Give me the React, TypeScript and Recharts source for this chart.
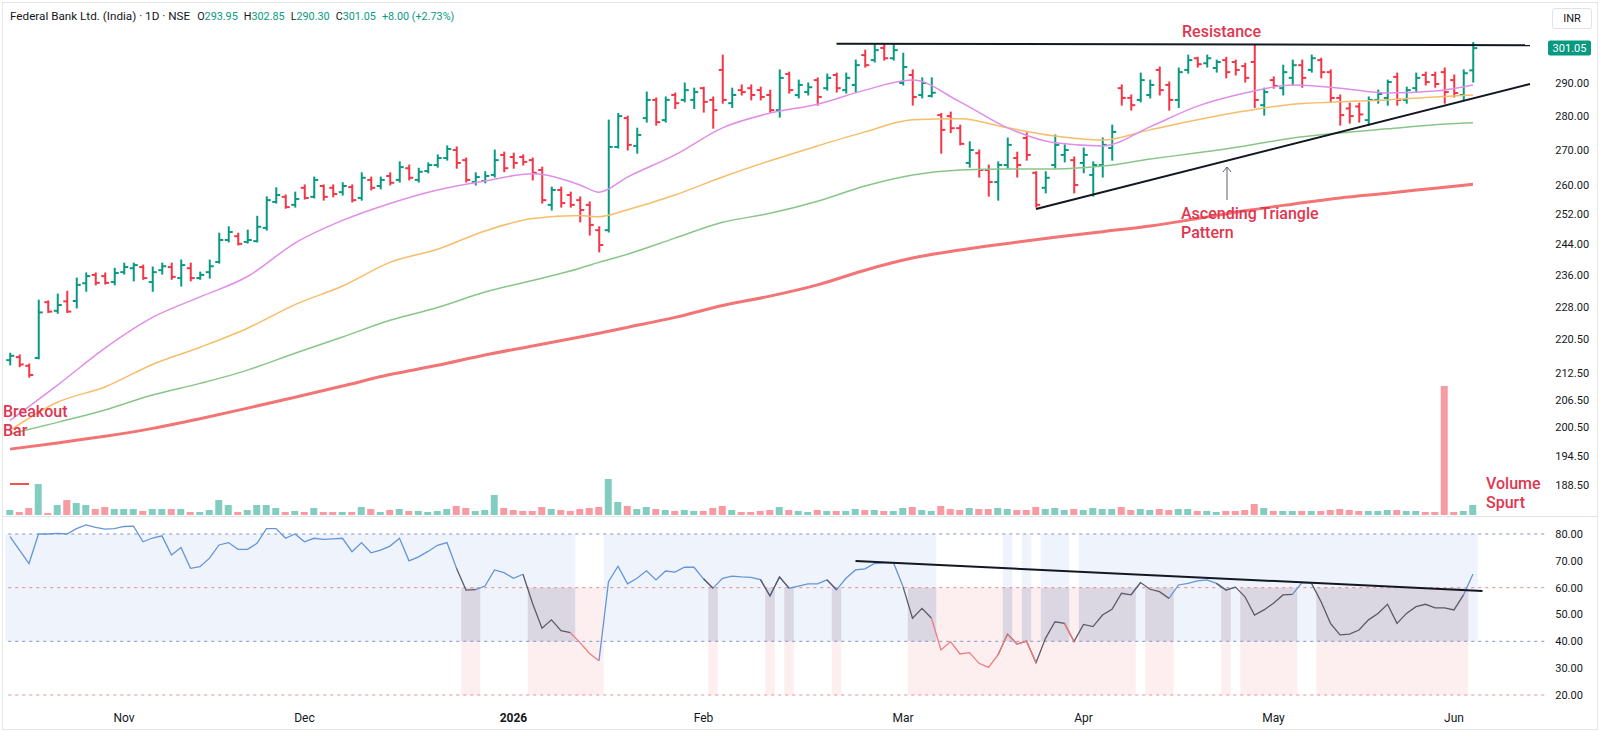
import React from 'react';
import { ComposedChart, Bar, Line, XAxis, YAxis, ReferenceLine, ReferenceArea, Cell } from 'recharts';

const UP = '#089981';
const DOWN = '#f23645';
const NOTE = '#e0364f';
const SLOTS = 162; // trading days plus empty room on the right

// Daily OHLC, Federal Bank (NSE)
const OPEN = [
  215.5, 216.2, 214.2, 216.0, 229.3, 227.2, 229.5, 229.6, 234.0, 236.1,
  235.8, 234.3, 236.8, 237.8, 238.1, 234.3, 237.3, 238.1, 235.3, 237.8,
  235.3, 236.8, 239.4, 245.1, 246.1, 244.6, 244.8, 248.3, 255.3, 256.7,
  254.5, 259.2, 256.7, 259.7, 259.2, 258.0, 259.4, 256.4, 261.4, 259.7,
  262.5, 261.4, 264.7, 261.4, 263.9, 265.6, 267.6, 269.9, 267.0, 260.8,
  261.1, 262.8, 268.5, 267.9, 267.9, 267.0, 264.2, 254.5, 258.6, 257.2,
  255.8, 254.5, 247.7, 247.7, 270.8, 279.3, 271.1, 279.3, 284.8, 278.7,
  286.3, 284.8, 284.8, 288.4, 284.8, 294.1, 283.8, 287.8, 288.4, 287.8,
  286.3, 281.7, 292.8, 286.3, 287.2, 290.9, 288.4, 292.5, 287.8, 289.4,
  298.8, 297.2, 301.1, 297.8, 290.0, 292.5, 286.3, 286.0, 280.2, 279.9,
  276.3, 266.2, 269.0, 264.2, 260.8, 265.6, 267.6, 273.4, 263.4, 259.2,
  265.6, 268.5, 267.0, 266.2, 262.8, 265.6, 270.5, 288.4, 285.4, 284.8,
  286.3, 294.1, 289.4, 284.8, 294.1, 297.8, 296.2, 294.7, 297.2, 296.6,
  295.3, 296.6, 283.2, 290.9, 288.4, 291.6, 295.6, 294.1, 297.2, 293.4,
  285.4, 282.2, 282.8, 278.7, 284.8, 285.4, 291.9, 284.8, 288.4, 292.5,
  292.5, 293.4, 290.9, 286.3, 293.95,
];
const HIGH = [
  217.1, 216.7, 214.6, 229.8, 229.6, 231.3, 232.0, 235.3, 236.6, 236.6,
  236.6, 237.8, 239.1, 239.1, 238.6, 238.1, 239.1, 239.1, 239.9, 239.1,
  236.8, 239.9, 246.9, 248.6, 246.9, 247.7, 251.4, 256.7, 259.2, 257.2,
  258.0, 260.0, 262.2, 260.0, 260.0, 260.6, 260.0, 263.4, 262.2, 262.2,
  263.4, 266.5, 265.6, 264.7, 266.2, 268.5, 271.1, 270.8, 267.6, 263.4,
  263.7, 269.9, 269.3, 269.0, 268.5, 267.6, 265.0, 259.4, 259.4, 258.0,
  256.7, 255.3, 248.6, 278.7, 280.7, 279.9, 276.3, 287.2, 285.4, 285.7,
  286.9, 290.0, 288.4, 288.7, 285.7, 298.8, 288.4, 289.4, 289.4, 288.7,
  287.8, 294.1, 293.4, 290.9, 290.0, 291.6, 292.8, 293.1, 293.1, 297.2,
  300.4, 302.1, 302.1, 302.1, 299.4, 294.1, 291.6, 291.6, 280.7, 281.1,
  277.2, 272.3, 269.9, 265.6, 266.5, 273.4, 269.3, 274.9, 263.7, 263.7,
  274.3, 271.4, 267.9, 270.5, 266.5, 273.4, 277.2, 289.4, 286.3, 293.1,
  290.9, 295.0, 290.3, 294.7, 298.8, 298.1, 298.8, 297.2, 298.1, 297.2,
  296.2, 302.1, 288.4, 291.9, 295.6, 297.2, 297.2, 298.8, 297.8, 294.1,
  286.3, 283.8, 283.8, 285.7, 287.8, 290.9, 293.1, 288.7, 293.1, 293.4,
  293.4, 294.7, 292.5, 294.1, 302.85,
];
const LOW = [
  214.4, 214.0, 211.6, 215.8, 226.8, 226.6, 226.8, 227.9, 232.0, 233.6,
  233.8, 233.6, 236.3, 234.6, 235.0, 232.0, 236.3, 235.0, 233.3, 234.6,
  235.0, 235.3, 239.1, 244.6, 243.8, 244.3, 244.6, 247.7, 255.0, 253.6,
  253.9, 256.1, 256.4, 255.8, 256.7, 257.2, 255.3, 255.8, 258.6, 258.9,
  260.0, 260.8, 261.4, 260.8, 263.4, 265.0, 267.0, 264.7, 260.8, 260.0,
  260.6, 262.2, 263.7, 264.7, 265.6, 261.4, 255.0, 253.1, 253.9, 253.9,
  249.9, 246.4, 242.0, 247.2, 270.5, 269.9, 269.0, 278.1, 277.2, 278.1,
  282.2, 284.2, 282.2, 281.1, 276.3, 283.8, 282.5, 286.3, 284.8, 284.8,
  281.1, 279.6, 286.9, 285.4, 286.3, 283.2, 287.8, 287.2, 286.9, 287.2,
  295.0, 296.6, 297.2, 297.2, 289.4, 283.2, 285.4, 285.7, 269.0, 275.0,
  271.4, 265.0, 262.2, 256.9, 255.8, 264.7, 262.2, 267.0, 253.9, 257.8,
  264.7, 266.5, 257.8, 263.4, 256.9, 262.2, 267.0, 283.2, 281.7, 284.2,
  285.4, 286.3, 281.7, 282.5, 293.1, 295.0, 295.0, 293.4, 291.6, 292.5,
  290.3, 282.5, 280.2, 288.4, 286.3, 289.4, 288.7, 293.4, 291.6, 284.2,
  277.2, 277.8, 278.1, 277.2, 283.8, 283.2, 283.2, 283.8, 287.2, 289.4,
  288.7, 283.8, 285.7, 284.8, 290.3,
];
const CLOSE = [
  216.5, 214.5, 212.1, 226.8, 227.0, 228.6, 227.0, 233.6, 235.8, 234.1,
  234.1, 236.6, 238.1, 238.6, 235.3, 236.8, 238.3, 235.6, 238.6, 235.3,
  236.1, 238.3, 245.1, 247.2, 244.1, 245.1, 248.6, 255.8, 257.2, 253.9,
  256.1, 256.4, 261.4, 256.7, 257.5, 259.7, 255.8, 262.0, 259.2, 261.4,
  260.6, 265.0, 262.0, 263.7, 265.6, 267.6, 270.2, 266.2, 261.4, 262.2,
  262.5, 267.0, 264.7, 266.2, 266.5, 263.4, 255.8, 258.6, 255.0, 254.5,
  253.1, 249.1, 243.8, 270.8, 279.9, 271.4, 274.3, 284.8, 278.1, 284.8,
  283.8, 287.8, 287.2, 284.2, 281.7, 284.8, 286.3, 287.2, 286.3, 285.7,
  281.7, 291.6, 287.8, 289.4, 288.7, 285.7, 291.6, 288.4, 291.6, 295.6,
  295.6, 300.4, 297.8, 300.4, 295.0, 285.7, 290.0, 287.0, 275.8, 276.3,
  271.7, 269.9, 264.2, 260.8, 265.6, 271.4, 265.6, 268.5, 254.5, 262.0,
  271.4, 269.9, 260.0, 268.5, 265.6, 271.4, 275.2, 285.4, 283.2, 290.9,
  289.4, 287.8, 284.8, 293.4, 297.2, 295.9, 297.8, 296.6, 293.4, 294.1,
  291.6, 284.8, 287.2, 289.1, 293.4, 295.6, 291.6, 297.8, 293.4, 285.4,
  280.2, 279.9, 280.4, 284.8, 286.6, 290.3, 284.8, 287.8, 291.6, 290.3,
  289.7, 287.2, 286.9, 293.05, 301.05,
];
// volume, millions of shares
const VOLUME = [
  5, 3, 7, 31, 2, 10, 15, 12, 10, 6,
  8, 6, 6, 6, 4, 6, 6, 6, 6, 3,
  3, 5, 15, 10, 3, 5, 10, 10, 7, 3,
  4, 3, 7, 3, 3, 3, 3, 8, 6, 3,
  5, 6, 4, 4, 3, 4, 6, 9, 7, 4,
  5, 20, 7, 5, 4, 4, 8, 6, 5, 4,
  6, 7, 8, 36, 13, 9, 6, 8, 6, 5,
  4, 5, 4, 4, 7, 9, 5, 3, 3, 4,
  5, 8, 5, 4, 3, 5, 4, 4, 4, 6,
  5, 5, 4, 4, 7, 8, 5, 4, 9, 6,
  5, 7, 6, 6, 7, 6, 5, 5, 8, 6,
  7, 5, 6, 5, 7, 6, 6, 8, 5, 6,
  5, 6, 5, 6, 6, 4, 4, 3, 4, 4,
  5, 11, 7, 4, 4, 4, 4, 4, 4, 5,
  6, 5, 4, 4, 4, 5, 5, 4, 4, 3,
  3, 129, 3, 4, 10,
];
// RSI(14)
const RSI = [
  79, 74, 69, 80, 80, 80.2, 80, 82, 83.4, 82.5,
  81.8, 82, 82.8, 82.9, 77.1, 78.5, 79.3, 72.2, 75, 67.2,
  67.8, 71, 75.9, 76.8, 74.3, 74.3, 76.5, 82, 82, 78.4,
  80, 77.1, 78.4, 78, 78.2, 78.4, 73.4, 76.8, 73, 74,
  75.5, 78.4, 70, 71.5, 73.5, 75.8, 76.8, 67.2, 59.1, 59.3,
  60.6, 66.6, 65.6, 63.5, 65, 54.2, 44.9, 48, 44, 43.2,
  39.5, 35.5, 32.8, 62.2, 68, 61.4, 63.5, 66.3, 62.9, 66.2,
  65.8, 67.6, 67.6, 63.3, 59.8, 63.5, 64.3, 64, 63.8, 63,
  56.9, 64, 59.8, 60.6, 61.4, 61.4, 62.9, 59.2, 63.5, 66.6,
  67, 69, 69.2, 69.3, 60.4, 48.6, 52.3, 48.6, 36.8, 39.9,
  35.3, 35.8, 31.8, 30.3, 34.9, 42.7, 39, 40.1, 32, 41.1,
  47.3, 46.7, 39.9, 46.3, 45.5, 49.8, 51.9, 57.9, 57.3, 61.9,
  59.4, 58.5, 56, 61, 61.6, 62.5, 62.9, 61.6, 59.1, 60.2,
  56.6, 49.8, 51.7, 54.2, 57.3, 57.5, 61.9, 61.6, 54.8, 46.7,
  42.4, 42.7, 44.2, 48, 50.4, 53.8, 46.7, 50.4, 52.9, 53.8,
  52.5, 52.5, 51.7, 57.3, 65.1,
];

// moving averages, sampled at these bars
const MA_AT = [0, 5, 10, 15, 20, 25, 30, 35, 40, 45, 50, 55, 60, 62, 65, 70, 75, 80, 85, 90, 95, 100, 105, 110, 115, 120, 125, 130, 135, 140, 145, 150, 154];
const MA20 = [202.0, 209.8, 218.3, 225.6, 230.6, 235.7, 244.3, 250.3, 254.9, 258.6, 261.1, 263.1, 260.0, 258.0, 262.2, 268.5, 276.4, 280.8, 283.5, 287.8, 290.9, 284.2, 276.4, 272.0, 271.1, 276.7, 282.9, 286.9, 289.4, 288.4, 286.9, 287.5, 289.4];
const MA50 = [199.9, 206.0, 209.4, 214.5, 218.5, 223.0, 228.7, 233.3, 239.3, 242.7, 247.5, 250.8, 251.6, 251.3, 253.2, 257.2, 262.2, 266.8, 271.1, 275.2, 278.8, 279.1, 276.4, 274.0, 272.8, 275.8, 278.8, 281.4, 283.5, 284.2, 284.8, 285.7, 286.3];
const MA100 = [199.1, 201.6, 204.3, 207.6, 210.2, 213.2, 217.1, 220.9, 224.9, 228.0, 231.8, 234.7, 237.8, 239.3, 241.4, 245.6, 249.8, 252.2, 255.5, 259.7, 262.8, 264.2, 264.5, 264.5, 265.3, 267.3, 269.1, 271.1, 273.4, 274.9, 276.1, 277.3, 277.9];
const MA200 = [195.9, 197.2, 198.6, 200.3, 202.4, 204.7, 207.1, 209.6, 212.2, 214.3, 216.7, 218.8, 220.9, 221.8, 223.2, 225.6, 228.5, 230.8, 233.6, 237.3, 240.4, 242.5, 244.2, 245.8, 247.3, 248.8, 250.8, 252.9, 254.7, 256.4, 257.7, 259.1, 260.2];

const PRICE_TICKS = [188.5, 194.5, 200.5, 206.5, 212.5, 220.5, 228, 236, 244, 252, 260, 270, 280, 290];
const RSI_TICKS = [20, 30, 40, 50, 60, 70, 80];
const MONTH_IDX = [12, 31, 53, 73, 94, 113, 133, 152];
const MONTH_LABELS = ['Nov', 'Dec', '2026', 'Feb', 'Mar', 'Apr', 'May', 'Jun'];

const LAST = CLOSE.length - 1;
const CHANGE = CLOSE[LAST] - CLOSE[LAST - 1];

const priceRows: any[] = Array.from({ length: SLOTS }, (_, i) =>
  i < CLOSE.length
    ? { i, o: OPEN[i], h: HIGH[i], l: LOW[i], c: CLOSE[i], v: VOLUME[i] }
    : { i }
);
MA_AT.forEach((idx, k) => {
  Object.assign(priceRows[idx], { ma20: MA20[k], ma50: MA50[k], ma100: MA100[k], ma200: MA200[k] });
});

const rsiState = (v: number) => (v > 60 ? 'up' : v < 40 ? 'dn' : 'mid');
const rsiRows: any[] = Array.from({ length: SLOTS }, (_, i) => {
  const row: any = { i };
  if (i < RSI.length) {
    const here = rsiState(RSI[i]);
    const next = i + 1 < RSI.length ? rsiState(RSI[i + 1]) : null;
    for (const s of ['up', 'mid', 'dn']) row[s] = here === s || next === s ? RSI[i] : null;
  }
  return row;
});

function runs(flag: (v: number) => boolean) {
  const out: [number, number][] = [];
  let start = -1;
  RSI.forEach((v, i) => {
    if (flag(v)) {
      if (start < 0) start = i;
    } else if (start >= 0) {
      out.push([start, i - 1]);
      start = -1;
    }
  });
  if (start >= 0) out.push([start, RSI.length - 1]);
  return out;
}
const BULL_RUNS = runs((v) => v > 40);
const BEAR_RUNS = runs((v) => v < 60);
const BOTH_RUNS = runs((v) => v > 40 && v < 60);

function OhlcBar(props: any) {
  const { x, y, width, height, payload } = props;
  if (!payload || payload.o == null) return null;
  const top = Math.min(y, y + height);
  const bottom = Math.max(y, y + height);
  const cx = x + width / 2;
  const lh = Math.log(payload.h);
  const ll = Math.log(payload.l);
  // log axis: pixel position is linear in log(price)
  const py = (v: number) => (lh === ll ? top : top + ((lh - Math.log(v)) / (lh - ll)) * (bottom - top));
  const color = payload.c >= payload.o ? UP : DOWN;
  return (
    <g stroke={color} strokeWidth={2}>
      <line x1={cx} y1={top - 0.5} x2={cx} y2={bottom + 0.5} />
      <line x1={cx - 4} y1={py(payload.o)} x2={cx} y2={py(payload.o)} />
      <line x1={cx} y1={py(payload.c)} x2={cx + 4} y2={py(payload.c)} />
    </g>
  );
}

function LastPriceTag(props: any) {
  const { viewBox, text } = props;
  if (!viewBox) return null;
  const left = viewBox.x + viewBox.width + 3.75;
  return (
    <g>
      <rect x={left} y={viewBox.y - 7.5} width={43} height={15} rx={2} fill={UP} />
      <text x={left + 21.5} y={viewBox.y} dy="0.35em" textAnchor="middle" fontSize={11} fill="#fff">
        {text}
      </text>
    </g>
  );
}

function MonthTick(props: any) {
  const { x, y, payload } = props;
  const label = MONTH_LABELS[MONTH_IDX.indexOf(payload.value)];
  return (
    <text x={x} y={y} dy={9} textAnchor="middle" fontSize={12} fill="#131722" fontWeight={label === '2026' ? 700 : 400}>
      {label}
    </text>
  );
}

function PriceChart() {
  return (
    <ComposedChart width={1600} height={517} data={priceRows} margin={{ top: 4, right: 0, bottom: 2, left: 5.25 }}>
      <XAxis xAxisId="p" dataKey="i" type="category" hide />
      <XAxis xAxisId="v" dataKey="i" type="category" hide />
      <YAxis
        yAxisId="price"
        orientation="right"
        type="number"
        scale="log"
        domain={[182.55, 315.62]}
        allowDataOverflow
        ticks={PRICE_TICKS}
        interval={0}
        width={55.75}
        tickLine={false}
        axisLine={false}
        tickMargin={5}
        tick={{ fontSize: 11, fill: '#131722' }}
        tickFormatter={(v: number) => v.toFixed(2)}
      />
      <YAxis yAxisId="vol" hide domain={[0, 511]} allowDataOverflow />
      <Bar xAxisId="v" yAxisId="vol" dataKey="v" barSize={7} isAnimationActive={false}>
        {priceRows.map((d) => (
          <Cell key={d.i} fill={d.c >= d.o ? '#83ccc0' : '#f89aa2'} />
        ))}
      </Bar>
      <ReferenceLine xAxisId="v" yAxisId="vol" segment={[{ x: 0, y: 31 }, { x: 2, y: 31 }]} stroke="#ef5350" strokeWidth={2} ifOverflow="visible" />
      <Line xAxisId="p" yAxisId="price" dataKey="ma200" type="monotone" connectNulls dot={false} stroke="#f27474" strokeWidth={3} isAnimationActive={false} />
      <Line xAxisId="p" yAxisId="price" dataKey="ma100" type="monotone" connectNulls dot={false} stroke="#88c688" strokeWidth={1.5} isAnimationActive={false} />
      <Line xAxisId="p" yAxisId="price" dataKey="ma50" type="monotone" connectNulls dot={false} stroke="#f7bd6a" strokeWidth={1.5} isAnimationActive={false} />
      <Line xAxisId="p" yAxisId="price" dataKey="ma20" type="monotone" connectNulls dot={false} stroke="#e08ee8" strokeWidth={1.5} isAnimationActive={false} />
      <Bar
        xAxisId="p"
        yAxisId="price"
        dataKey={(d: any) => (d.h == null ? null : [d.l, d.h])}
        barSize={8}
        shape={(p: any) => <OhlcBar {...p} />}
        isAnimationActive={false}
      />
      {/* resistance and rising support of the triangle */}
      <ReferenceLine xAxisId="p" yAxisId="price" segment={[{ x: 87, y: 302.5 }, { x: 160, y: 302.0 }]} stroke="#131722" strokeWidth={2} ifOverflow="visible" />
      <ReferenceLine xAxisId="p" yAxisId="price" segment={[{ x: 108, y: 253.4 }, { x: 160, y: 289.7 }]} stroke="#131722" strokeWidth={2} ifOverflow="visible" />
      <ReferenceLine
        xAxisId="p"
        yAxisId="price"
        y={CLOSE[LAST]}
        stroke="none"
        ifOverflow="visible"
        label={<LastPriceTag text={CLOSE[LAST].toFixed(2)} />}
      />
    </ComposedChart>
  );
}

function RsiChart() {
  return (
    <ComposedChart width={1600} height={216} data={rsiRows} margin={{ top: 2, right: 0, bottom: 0, left: 5.25 }}>
      <XAxis
        dataKey="i"
        type="number"
        domain={[-0.5, SLOTS - 0.5]}
        allowDataOverflow
        ticks={MONTH_IDX}
        interval={0}
        height={27}
        tickLine={false}
        axisLine={false}
        tick={<MonthTick />}
      />
      <YAxis
        orientation="right"
        type="number"
        domain={[16.27, 85.96]}
        allowDataOverflow
        ticks={RSI_TICKS}
        interval={0}
        width={55.75}
        tickLine={false}
        axisLine={false}
        tickMargin={5}
        tick={{ fontSize: 11, fill: '#131722' }}
        tickFormatter={(v: number) => v.toFixed(2)}
      />
      {BULL_RUNS.map(([a, b]) => (
        <ReferenceArea key={`u${a}`} x1={a - 0.5} x2={b + 0.5} y1={40} y2={80} fill="#eef3fc" fillOpacity={1} stroke="none" />
      ))}
      {BEAR_RUNS.map(([a, b]) => (
        <ReferenceArea key={`d${a}`} x1={a - 0.5} x2={b + 0.5} y1={20} y2={60} fill="#fdeff0" fillOpacity={1} stroke="none" />
      ))}
      {BOTH_RUNS.map(([a, b]) => (
        <ReferenceArea key={`m${a}`} x1={a - 0.5} x2={b + 0.5} y1={40} y2={60} fill="#dad6e2" fillOpacity={1} stroke="none" />
      ))}
      <ReferenceLine y={80} stroke="#8393c6" strokeDasharray="3 4" />
      <ReferenceLine y={60} stroke="#e48c92" strokeDasharray="3 4" />
      <ReferenceLine y={40} stroke="#8393c6" strokeDasharray="3 4" />
      <ReferenceLine y={20} stroke="#e48c92" strokeDasharray="3 4" />
      <Line dataKey="up" type="linear" dot={false} stroke="#6495d8" strokeWidth={1.3} isAnimationActive={false} />
      <Line dataKey="mid" type="linear" dot={false} stroke="#5e5b68" strokeWidth={1.3} isAnimationActive={false} />
      <Line dataKey="dn" type="linear" dot={false} stroke="#ee7c7c" strokeWidth={1.3} isAnimationActive={false} />
      <ReferenceLine segment={[{ x: 89, y: 69.9 }, { x: 155, y: 58.8 }]} stroke="#131722" strokeWidth={2} ifOverflow="visible" />
    </ComposedChart>
  );
}

const noteStyle: React.CSSProperties = {
  position: 'absolute',
  color: NOTE,
  fontFamily: 'Roboto, "Noto Sans", sans-serif',
  fontWeight: 500,
  fontSize: 16,
  lineHeight: '19px',
  whiteSpace: 'nowrap',
};

// multi-line note, each line its own box
function Note({ left, top, lines }: { left: number; top: number; lines: string[] }) {
  return (
    <>
      {lines.map((t, k) => (
        <div key={t} style={{ ...noteStyle, left, top: top + k * 19 }}>
          {t}
        </div>
      ))}
    </>
  );
}

export default function App() {
  const val = { color: UP, fontSize: 10.8 };
  return (
    <div
      style={{
        position: 'absolute',
        left: 0,
        top: 0,
        width: 1600,
        height: 732,
        background: '#fff',
        overflow: 'hidden',
        fontFamily: 'Roboto, "Noto Sans", sans-serif',
      }}
    >
      <div style={{ position: 'absolute', left: 2, top: 2, width: 1594, height: 726, border: '1px solid #e6e6e6' }} />
      <div style={{ position: 'absolute', left: 0, top: 0 }}>
        <PriceChart />
      </div>
      <div style={{ position: 'absolute', left: 3, top: 516, width: 1594, height: 1, background: '#e0e3eb' }} />
      <div style={{ position: 'absolute', left: 0, top: 516 }}>
        <RsiChart />
      </div>

      <div style={{ position: 'absolute', left: 10, top: 9, fontSize: 11.7, color: '#131722', whiteSpace: 'nowrap', lineHeight: '14px' }}>
        Federal Bank Ltd. (India) · 1D · NSE
        <span style={{ marginLeft: 7, fontSize: 10.8 }}>O</span><span style={val}>{OPEN[LAST].toFixed(2)}</span>
        <span style={{ marginLeft: 6, fontSize: 10.8 }}>H</span><span style={val}>{HIGH[LAST].toFixed(2)}</span>
        <span style={{ marginLeft: 6, fontSize: 10.8 }}>L</span><span style={val}>{LOW[LAST].toFixed(2)}</span>
        <span style={{ marginLeft: 6, fontSize: 10.8 }}>C</span><span style={val}>{CLOSE[LAST].toFixed(2)}</span>
        <span style={{ marginLeft: 6, ...val }}>
          {CHANGE >= 0 ? '+' : ''}{CHANGE.toFixed(2)} ({CHANGE >= 0 ? '+' : ''}{((CHANGE / CLOSE[LAST - 1]) * 100).toFixed(2)}%)
        </span>
      </div>

      <div
        style={{
          position: 'absolute',
          left: 1552,
          top: 8,
          width: 38,
          height: 19,
          border: '1px solid #e0e3eb',
          borderRadius: 3,
          fontSize: 11,
          color: '#131722',
          textAlign: 'center',
          lineHeight: '19px',
        }}
      >
        INR
      </div>

      <Note left={1182} top={21.5} lines={['Resistance']} />
      <Note left={1181} top={204} lines={['Ascending Triangle', 'Pattern']} />
      <Note left={3} top={401.5} lines={['Breakout', 'Bar']} />
      <Note left={1486} top={473.5} lines={['Volume', 'Spurt']} />

      <svg style={{ position: 'absolute', left: 1219, top: 162 }} width={16} height={42}>
        <line x1={8} y1={5} x2={8} y2={38} stroke="#5d606b" strokeWidth={1} />
        <polyline points="4,10 8,5 12,10" fill="none" stroke="#5d606b" strokeWidth={1} />
      </svg>
    </div>
  );
}
